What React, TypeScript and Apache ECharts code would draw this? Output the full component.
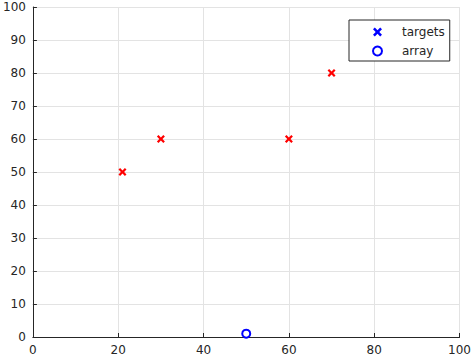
import React, { useEffect, useRef } from "react";
import * as echarts from "echarts";

const targetsX = [21, 30, 60, 70];
const targetsY = [50, 60, 60, 80];
const arrayX = [50];
const arrayY = [1];
const xTicks = [0, 20, 40, 60, 80, 100];
const yTicks = [0, 10, 20, 30, 40, 50, 60, 70, 80, 90, 100];

const X_PATH =
  "path://M0,2 L2,0 L5,3 L8,0 L10,2 L7,5 L10,8 L8,10 L5,7 L2,10 L0,8 L3,5 Z";

export default function App() {
  const ref = useRef<HTMLDivElement>(null);
  useEffect(() => {
    if (!ref.current) return;
    const chart = echarts.init(ref.current, undefined, { renderer: "svg" });
    const font = "DejaVu Sans";
    const textColor = "#262626";
    const axisCommon = {
      min: 0,
      max: 100,
      axisLine: { show: true, lineStyle: { color: "#262626", width: 1 } },
      axisTick: { show: true, inside: true, length: 4, lineStyle: { color: "#262626" } },
      splitLine: { show: true, lineStyle: { color: "#e3e3e3", width: 1 } },
      axisLabel: { color: textColor, fontFamily: font, fontSize: 12 },
    };
    chart.setOption({
      animation: false,
      backgroundColor: "#ffffff",
      grid: { left: 31, top: 7, right: 12, bottom: 19, containLabel: false },
      xAxis: {
        type: "value",
        interval: 20,
        ...axisCommon,
        axisLabel: { ...axisCommon.axisLabel, margin: 7, formatter: (v: number) => (xTicks.includes(v) ? String(v) : "") },
      },
      yAxis: {
        type: "value",
        interval: 10,
        ...axisCommon,
        axisLabel: { ...axisCommon.axisLabel, margin: 7, formatter: (v: number) => (yTicks.includes(v) ? String(v) : "") },
      },
      legend: {
        orient: "vertical",
        left: 349,
        top: 20,
        padding: [6, 5, 4, 23],
        itemGap: 7,
        itemWidth: 9,
        itemHeight: 9,
        borderColor: "#262626",
        borderWidth: 1,
        backgroundColor: "#ffffff",
        textStyle: { color: textColor, fontFamily: font, fontSize: 12, padding: [0, 0, 0, 15] },
        data: [
          { name: "targets", icon: X_PATH, itemStyle: { color: "#0000ff", opacity: 1 } },
          { name: "array", icon: "emptyCircle", itemStyle: { color: "#0000ff", borderColor: "#0000ff", borderWidth: 2, opacity: 1 } },
        ],
      },
      series: [
        {
          name: "targets",
          type: "scatter",
          symbol: X_PATH,
          symbolSize: 8,
          clip: false,
          itemStyle: { color: "#ff0000", opacity: 1 },
          data: targetsX.map((x, i) => [x, targetsY[i]]),
        },
        {
          name: "array",
          type: "scatter",
          symbol: "emptyCircle",
          symbolSize: 8,
          clip: false,
          z: 5,
          itemStyle: { color: "#0000ff", borderColor: "#0000ff", borderWidth: 2, opacity: 1 },
          data: arrayX.map((x, i) => [x, arrayY[i]]),
        },
      ],
    });
    return () => chart.dispose();
  }, []);
  return <div ref={ref} style={{ position: "fixed", left: 0, top: 0, width: 474, height: 356 }} />;
}
